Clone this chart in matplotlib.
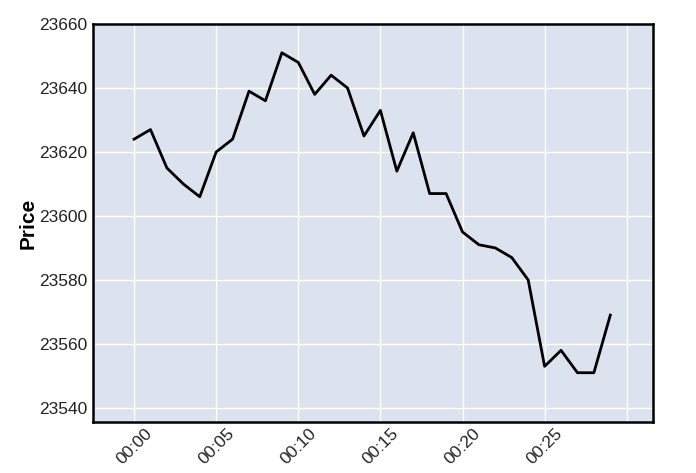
import matplotlib
matplotlib.use("Agg")
import matplotlib.pyplot as plt

minutes = list(range(30))
prices = [23624, 23627, 23615, 23610, 23606, 23620, 23624, 23639, 23636, 23651,
          23648, 23638, 23644, 23640, 23625, 23633, 23614, 23626, 23607, 23607,
          23595, 23591, 23590, 23587, 23580, 23553, 23558, 23551, 23551, 23569]
xtick_pos = [0, 5, 10, 15, 20, 25, 30]
xtick_labels = ["00:00", "00:05", "00:10", "00:15", "00:20", "00:25", ""]
ytick_vals = [23540, 23560, 23580, 23600, 23620, 23640, 23660]

plt.rcParams['font.family'] = ['Liberation Sans', 'DejaVu Sans']
fig = plt.figure(figsize=(6.96, 4.73), dpi=100)
ax = fig.add_axes([93/696, 1 - 422/473, 560/696, 398/473])
ax.set_facecolor('#DCE3EF')
ax.plot(minutes, prices, color='black', linewidth=2)
ax.set_xlim(-2.5, 31.6)
ax.set_ylim(23535.6, 23660)
ax.set_xticks(xtick_pos)
ax.set_xticklabels(xtick_labels, rotation=45, ha='center')
ax.set_yticks(ytick_vals)
ax.grid(True, color='white', linewidth=1)
ax.set_axisbelow(True)
ax.tick_params(length=0, labelsize=12.5, colors='#222222', pad=4)
ax.tick_params(axis='x', pad=3)
for s in ax.spines.values():
    s.set_color('black')
    s.set_linewidth(1.8)
ax.set_ylabel('Price', fontsize=15, fontweight='bold', labelpad=1)
fig.savefig('out.png', dpi=100)
